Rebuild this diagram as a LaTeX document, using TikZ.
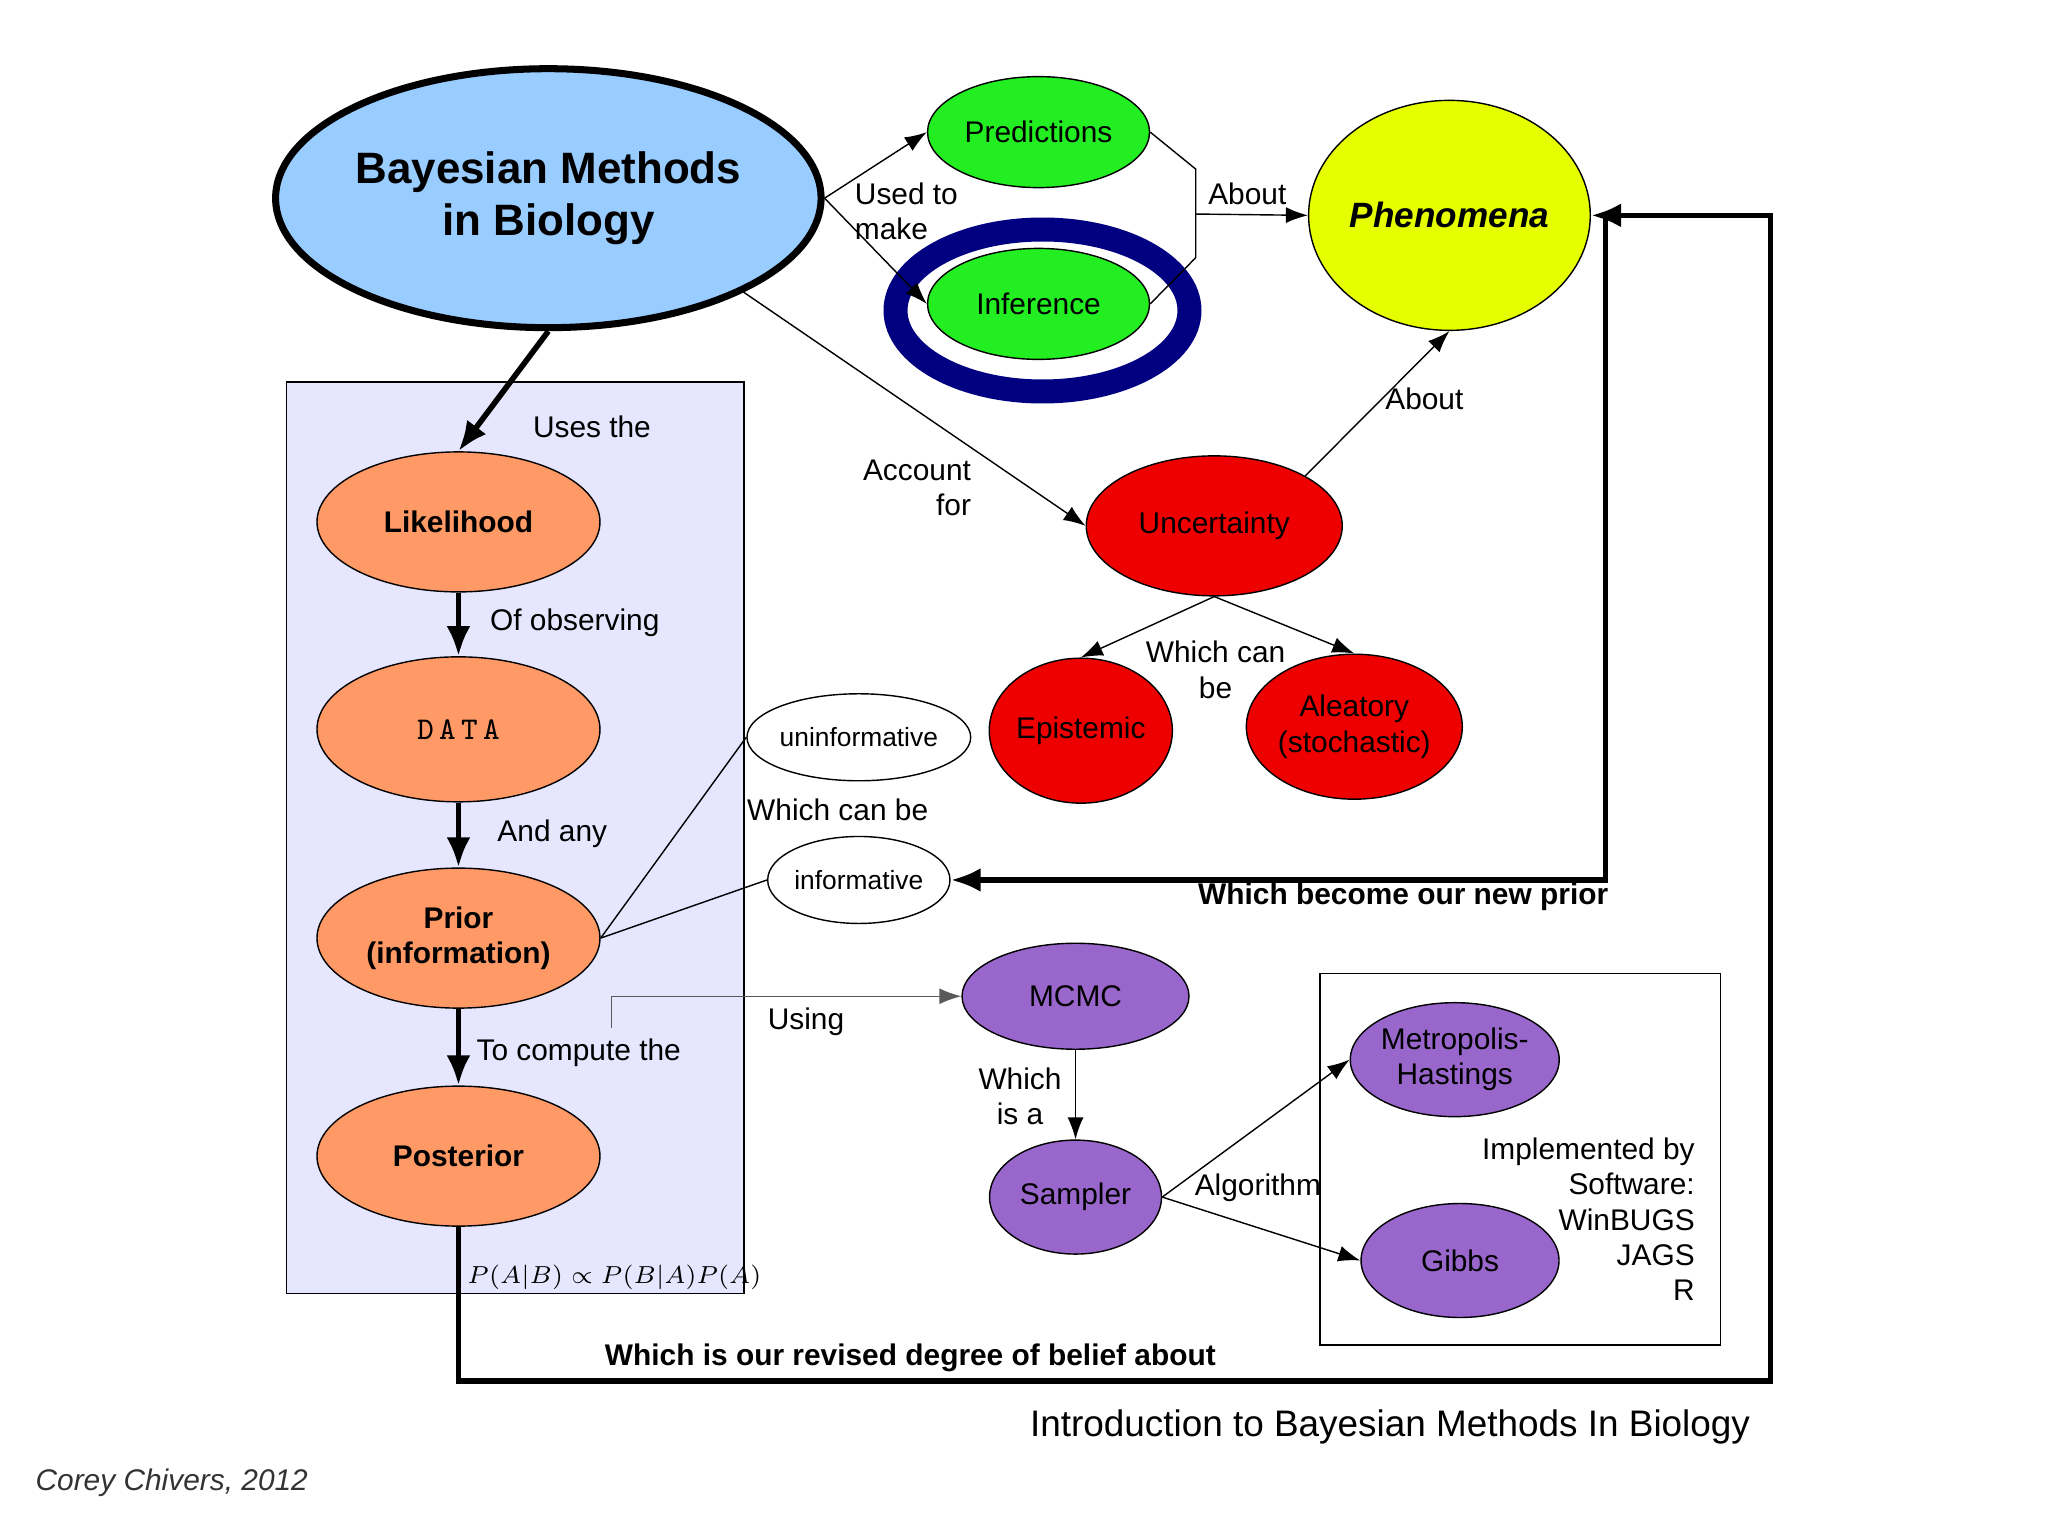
\documentclass[tikz,border=0pt]{standalone}
\usepackage{fontspec}
\setmainfont{Liberation Sans}
\usetikzlibrary{shapes.geometric,arrows.meta,positioning,calc}
\definecolor{bayesblue}{RGB}{153,204,255}
\definecolor{predgreen}{RGB}{34,238,34}
\definecolor{phenyellow}{RGB}{230,255,0}
\definecolor{uncred}{RGB}{238,0,0}
\definecolor{likeorange}{RGB}{255,153,102}
\definecolor{mcmcpurple}{RGB}{153,102,204}
\definecolor{boxlav}{RGB}{230,230,255}
\definecolor{ringnavy}{RGB}{0,0,128}
\begin{document}
\begin{tikzpicture}[
    x=0.01321cm, y=-0.01321cm,
    font=\fontsize{8.5}{10}\selectfont,
    bubble/.style={draw, ellipse, inner sep=0pt, align=center},
    small/.style={bubble, minimum width=1.72cm, minimum height=0.87cm, font=\fontsize{7.5}{9}\selectfont},
    arr/.style={-{Latex[length=2.2mm,width=1.6mm]}},
    thickarr/.style={-{Latex[length=3mm,width=2.4mm]}, line width=1.6pt},
    lbl/.style={align=center},
]
\useasboundingbox (0,0) rectangle (1550,1162);

% Boxes
\draw[fill=boxlav] (217,289) rectangle (563,979);
\draw (999,737) rectangle (1302,1018);

% Top part
\node[bubble, line width=2pt, fill=bayesblue, minimum width=4.97cm, minimum height=2.59cm,
      font=\fontsize{12.5}{15}\selectfont\bfseries] (Bayes) at (415,150) {Bayesian Methods\\in Biology};
\node[bubble, fill=predgreen, minimum width=2.22cm, minimum height=1.11cm] (Predictions) at (786,100) {Predictions};
\draw[ringnavy, line width=0.24cm] (789,235) ellipse [x radius=1.47cm, y radius=0.81cm];
\node[bubble, fill=predgreen, minimum width=2.22cm, minimum height=1.11cm] (Inference) at (786,230) {Inference};
\node[bubble, fill=phenyellow, minimum width=2.56cm, minimum height=2.30cm,
      font=\fontsize{10}{12}\selectfont\bfseries\itshape] (Phenomena) at (1097,163) {Phenomena};
\node[bubble, fill=uncred, minimum width=2.56cm, minimum height=1.40cm] (Uncertainty) at (919,398) {Uncertainty};
\node[bubble, fill=uncred, minimum width=1.72cm, minimum height=1.45cm] (Epistemic) at (818,553) {Epistemic};
\node[bubble, fill=uncred, minimum width=1.72cm, minimum height=1.45cm] (Aleatory) at (1025,550) {Aleatory\\(stochastic)};

% Left column
\node[bubble, fill=likeorange, minimum width=2.83cm, minimum height=1.40cm, font=\fontsize{8.5}{10}\selectfont\bfseries] (Likelihood) at (347,395) {Likelihood};
\node[bubble, fill=likeorange, minimum width=2.83cm, minimum height=1.45cm, font=\fontsize{9}{10}\ttfamily] (Data) at (347,552) {D\,A\,T\,A};
\node[bubble, fill=likeorange, minimum width=2.83cm, minimum height=1.40cm, font=\fontsize{8.5}{10}\selectfont\bfseries] (Prior) at (347,710) {Prior\\(information)};
\node[bubble, fill=likeorange, minimum width=2.83cm, minimum height=1.40cm, font=\fontsize{8.5}{10}\selectfont\bfseries] (Posterior) at (347,875) {Posterior};
\node[small] (Uninf) at (650,558) {uninformative};
\node[small] (Inf) at (650,666) {informative};

% MCMC part
\node[bubble, fill=mcmcpurple, minimum width=2.27cm, minimum height=1.06cm] (MCMC) at (814,754) {MCMC};
\node[bubble, fill=mcmcpurple, minimum width=1.72cm, minimum height=1.14cm] (Sampler) at (814,906) {Sampler};
\node[bubble, fill=mcmcpurple, minimum width=1.98cm, minimum height=1.14cm] (Metro) at (1101,802) {Metropolis-\\Hastings};
\node[bubble, fill=mcmcpurple, minimum width=1.98cm, minimum height=1.14cm] (Gibbs) at (1105,954) {Gibbs};

% Lines
\draw[arr] (Bayes.east) -- (Predictions.west);
\draw[arr] (Bayes.east) -- (Inference.west);
\draw[arr] (Bayes.south east) -- (Uncertainty.west);
\draw[thickarr] (Bayes.south) -- (Likelihood.north);
\draw (Predictions.east) -- (905,128) -- (905,195) -- (Inference.east);
\coordinate (AboutJoin) at (905,162);
\draw[arr] (AboutJoin) -- (Phenomena.west);
\draw[arr] (Uncertainty.north east) -- (Phenomena.south);
\coordinate (UncBase) at (Uncertainty.south);
\draw[arr] (UncBase) -- (Epistemic.north);
\draw[arr] (UncBase) -- (Aleatory.north);
\draw[thickarr] (Likelihood) -- (Data);
\draw[thickarr] (Data) -- (Prior);
\draw[thickarr] (Prior) -- (Posterior);
\draw (Prior.east) -- (Uninf.west);
\draw (Prior.east) -- (Inf.west);
\draw[thickarr] (Posterior.south) |- (1340,1045) |- (Phenomena.east);
\draw[thickarr] (1215,162) |- (Inf.east);
\coordinate (UsingStart) at (463,778);
\draw[arr, gray!70!black] (UsingStart) |- (MCMC.west);
\draw[arr] (MCMC) -- (Sampler);
\draw[arr] (Sampler.east) -- (Metro.west);
\draw[arr] (Sampler.east) -- (Gibbs.west);

% Labels
\node[lbl, align=left] at (686,160) {Used to\\make};
\node at (944,147) {About};
\node at (1078,302) {About};
\node[lbl, align=right] at (694,369) {Account\\for};
\node[lbl] at (920,507) {Which can\\be};
\node at (448,323) {Uses the};
\node at (435,471) {Of observing};
\node at (418,631) {And any};
\node at (438,797) {To compute the};
\node at (634,613) {Which can be};
\node at (610,773) {Using};
\node[lbl] at (772,830) {Which\\is a};
\node at (952,899) {Algorithm};
\node[font=\fontsize{8.5}{10}\selectfont\bfseries] at (1062,679) {Which become our new prior};
\node[font=\fontsize{8.5}{10}\selectfont\bfseries] at (689,1028) {Which is our revised degree of belief about};
\node[lbl, align=right, anchor=north east] at (1292,852) {Implemented by\\Software:\\WinBUGS\\JAGS\\R};
\node[font=\fontsize{7}{8}\selectfont] at (465,967) {\fontspec{Liberation Serif}$P(A|B)\propto P(B|A)P(A)$};
\node[font=\fontsize{10.5}{12}\selectfont] at (1052,1080) {Introduction to Bayesian Methods In Biology};
\node[font=\fontsize{8.5}{10}\selectfont\itshape, gray!40!black] at (130,1122) {Corey Chivers, 2012};
\end{tikzpicture}
\end{document}
